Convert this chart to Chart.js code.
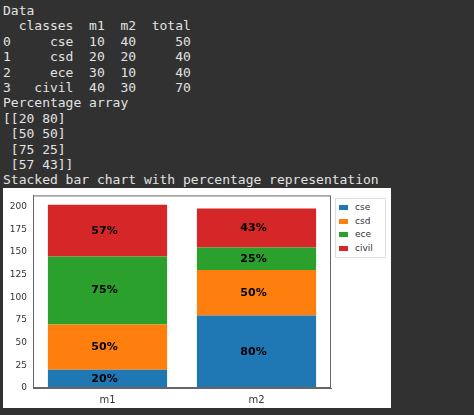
<!DOCTYPE html>
<html>
<head>
<meta charset="utf-8">
<script src="https://cdn.jsdelivr.net/npm/chart.js@4"></script>
<style>
  body { margin: 0; background: #313131; width: 474px; height: 415px; overflow: hidden; position: relative; }
  pre { margin: 0; position: absolute; left: 3px; top: 3px; color: #e2e2e2; font: 13px/15.4px "DejaVu Sans Mono", monospace; }
  #box { position: absolute; left: 3px; top: 188px; width: 388px; height: 220px; background: #fff; }
  #legend { position: absolute; left: 335px; top: 198px; width: 49px; padding: 2px 0; border: 1px solid #ddd; background: #fff; font: 9px "DejaVu Sans", sans-serif; color: #333; }
  #legend div { height: 13.5px; line-height: 13.5px; }
  #legend span { display: inline-block; width: 9px; height: 5px; margin: 0 7px 0 3px; vertical-align: middle; }
</style>
</head>
<body>
<pre>Data
  classes  m1  m2  total
0     cse  10  40     50
1     csd  20  20     40
2     ece  30  10     40
3   civil  40  30     70
Percentage array
[[20 80]
 [50 50]
 [75 25]
 [57 43]]
Stacked bar chart with percentage representation</pre>
<div id="box"><canvas id="chart" width="388" height="220"></canvas></div>
<div id="legend"></div>
<script>
// datos del grafico
var categories = ['m1', 'm2'];
var classes = ['cse', 'csd', 'ece', 'civil'];
var cse = [20, 80];
var csd = [50, 50];
var ece = [75, 25];
var civil = [57, 43];
var yTicks = [0, 25, 50, 75, 100, 125, 150, 175, 200];
var colors = ['#1f77b4', '#ff7f0e', '#2ca02c', '#d62728'];

var series = [cse, csd, ece, civil];

// leyenda en html
var legend = document.getElementById('legend');
classes.forEach(function (c, i) {
    var d = document.createElement('div');
    d.innerHTML = '<span style="background:' + colors[i] + '"></span>' + c;
    legend.appendChild(d);
});

// etiquetas de porcentaje y marco
var labelsPlugin = {
    id: 'labels',
    afterDatasetsDraw: function (chart) {
        var ctx = chart.ctx;
        ctx.save();
        ctx.font = 'bold 11px "DejaVu Sans"';
        ctx.fillStyle = '#000';
        ctx.textAlign = 'center';
        ctx.textBaseline = 'middle';
        chart.data.datasets.forEach(function (ds, i) {
            chart.getDatasetMeta(i).data.forEach(function (bar, j) {
                var mid = (bar.y + bar.base) / 2;
                ctx.fillText(ds.data[j] + '%', bar.x - 3, mid);
            });
        });
        var a = chart.chartArea;
        ctx.strokeStyle = '#666';
        ctx.lineWidth = 1;
        ctx.strokeRect(a.left + 0.5, a.top + 0.5, a.right - a.left - 1, a.bottom - a.top - 1);
        ctx.restore();
    }
};

var ctx = document.getElementById('chart').getContext('2d');
var chart = new Chart(ctx, {
    type: 'bar',
    data: {
        labels: categories,
        datasets: classes.map(function (c, i) {
            return {
                label: c,
                data: series[i],
                backgroundColor: colors[i],
                barPercentage: 0.8,
                categoryPercentage: 1
            };
        })
    },
    options: {
        responsive: false,
        animation: false,
        layout: { padding: { top: 6, right: 60, left: 0, bottom: 0 } },
        plugins: { legend: { display: false }, tooltip: { enabled: false } },
        scales: {
            x: {
                stacked: true,
                grid: { display: false, drawTicks: true, tickLength: 4, color: '#666' },
                border: { color: '#666' },
                ticks: { color: '#333', font: { family: 'DejaVu Sans', size: 10 }, padding: 2 },
                afterFit: function (s) { s.height = 20; }
            },
            y: {
                stacked: true,
                min: 0,
                max: 212.4,
                afterBuildTicks: function (s) { s.ticks = yTicks.map(function (v) { return { value: v }; }); },
                grid: { display: false, drawTicks: true, tickLength: 4, color: '#666' },
                border: { color: '#666' },
                ticks: { color: '#333', font: { family: 'DejaVu Sans', size: 9 }, padding: 2 },
                afterFit: function (s) { s.width = 30; }
            }
        }
    },
    plugins: [labelsPlugin]
});
</script>
</body>
</html>
